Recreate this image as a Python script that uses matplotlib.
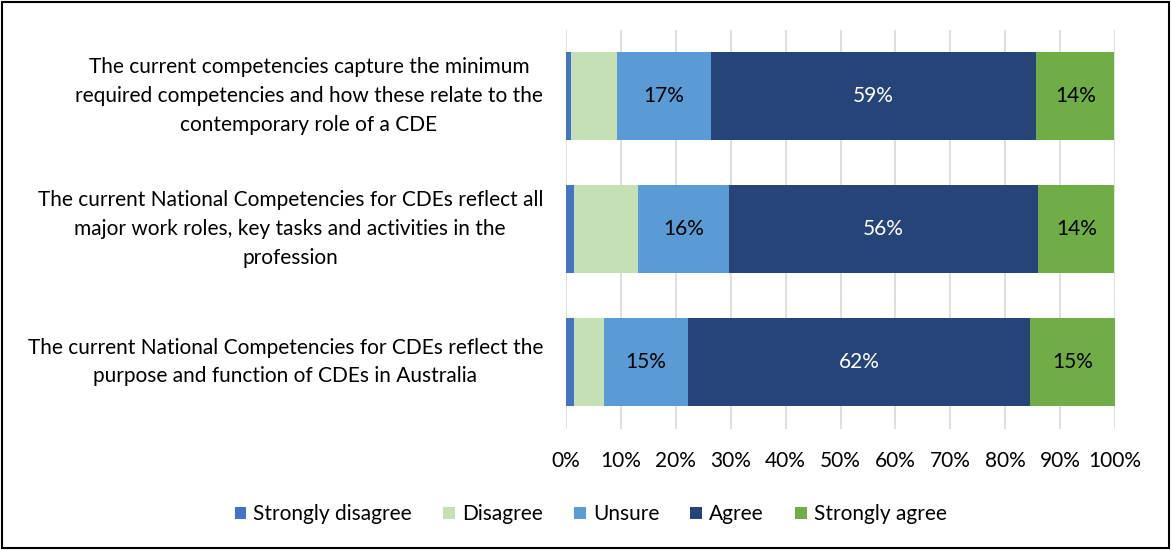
import numpy as np
import matplotlib.pyplot as plt
from matplotlib.patches import Rectangle
from matplotlib.transforms import ScaledTranslation

plt.rcParams['font.family'] = ['Lato', 'DejaVu Sans']

# statements (top to bottom)
statements = [
    "The current competencies capture the minimum\nrequired competencies and how these relate to the\ncontemporary role of a CDE",
    "The current National Competencies for CDEs reflect all\nmajor work roles, key tasks and activities in the\nprofession",
    "The current National Competencies for CDEs reflect the\npurpose and function of CDEs in Australia",
]
responses = ["Strongly disagree", "Disagree", "Unsure", "Agree", "Strongly agree"]
strongly_disagree = [0.9, 1.5, 1.5]
disagree = [8.4, 11.6, 5.5]
unsure = [17.1, 16.5, 15.2]
agree = [59.3, 56.4, 62.4]
strongly_agree = [14.2, 13.9, 15.4]

colors = ["#4472C4", "#C5E0B4", "#5B9BD5", "#264478", "#70AD47"]
label_colors = [None, None, "black", "white", "black"]
fs = 15

fig = plt.figure(figsize=(11.71, 5.5), dpi=100)
ax = fig.add_axes([566 / 1171, 1 - 428.5 / 550, 549 / 1171, 399 / 550])

series = [strongly_disagree, disagree, unsure, agree, strongly_agree]
y = np.arange(len(statements))
left = np.zeros(len(statements))
for vals, name, col, lc in zip(series, responses, colors, label_colors):
    vals = np.array(vals)
    ax.barh(y, vals, left=left, height=0.66, color=col, label=name, zorder=3)
    if lc is not None:
        for yi, l, v in zip(y, left, vals):
            ax.text(l + v / 2, yi, f"{round(v):.0f}%", ha='center', va='center',
                    color=lc, fontsize=fs, zorder=4)
    left += vals

ax.set_xlim(0, 100)
ax.set_ylim(len(statements) - 0.5, -0.5)
ax.set_xticks(np.arange(0, 101, 10))
ax.set_xticklabels([f"{t}%" for t in range(0, 101, 10)], fontsize=fs)
ax.set_yticks(y)
ax.set_yticklabels([])
# category labels drawn by hand, right edge a little left of the axis
lab_tr = ax.get_yaxis_transform() + ScaledTranslation(-0.23, 0, fig.dpi_scale_trans)
for yi, txt in zip(y, statements):
    ax.text(0, yi, txt, transform=lab_tr, ha='right', va='center',
            multialignment='center', linespacing=1.55, fontsize=fs)
ax.tick_params(axis='y', length=0)
ax.tick_params(axis='x', length=0, pad=16)
ax.xaxis.grid(True, color='#D9D9D9', linewidth=1.2, zorder=0)
for s in ax.spines.values():
    s.set_visible(False)

ax.legend(loc='center', bbox_to_anchor=(0.045, -0.215),
          ncol=5, frameon=False, fontsize=fs, handlelength=0.55, handleheight=0.55,
          columnspacing=1.5, handletextpad=0.35)

fig.patches.append(Rectangle((0.002, 0.003), 0.996, 0.994, transform=fig.transFigure,
                             fill=False, edgecolor='black', linewidth=1.5))

fig.savefig("out.png", dpi=100)
